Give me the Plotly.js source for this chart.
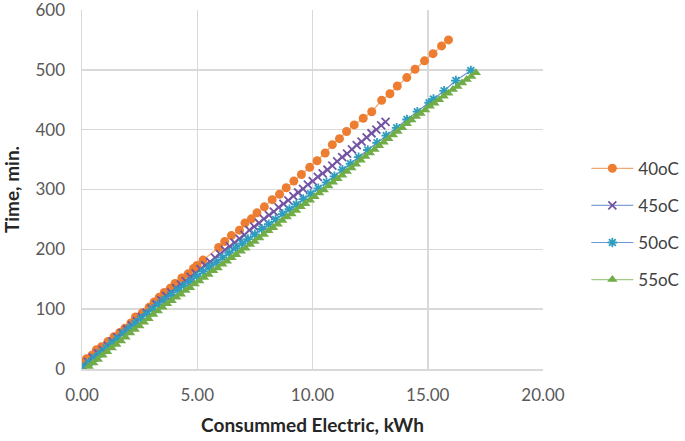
<!DOCTYPE html>
<html>
<head>
<meta charset="utf-8">
<script src="https://cdn.plot.ly/plotly-3.0.1.min.js"></script>
<style>html,body{margin:0;padding:0;background:#fff;}#chart{width:685px;height:441px;}</style>
</head>
<body>
<div id="chart"></div>
<script>
// 40oC
var x40 = [0.00,0.19,0.43,0.62,0.84,1.13,1.39,1.64,1.86,2.12,2.32,2.62,2.91,3.13,3.35,3.57,3.83,4.04,4.33,4.60,4.84,4.99,5.25,5.93,6.19,6.48,6.83,7.07,7.35,7.59,7.91,8.25,8.57,8.86,9.19,9.52,9.88,10.20,10.55,10.86,11.17,11.48,11.81,12.20,12.57,13.00,13.36,13.68,14.09,14.45,14.86,15.23,15.60,15.90];
var t40 = [10,17,23,32,37,46,54,61,68,77,87,94,103,112,120,128,135,143,152,159,168,173,182,203,213,223,232,244,251,261,271,283,292,303,314,325,337,348,361,375,385,397,408,419,430,449,460,473,487,501,515,527,540,550];
// 45oC
var x45 = [0.05,0.26,0.47,0.69,0.90,1.11,1.32,1.53,1.75,1.96,2.17,2.38,2.59,2.81,3.02,3.23,3.44,3.65,3.87,4.08,4.29,4.50,4.71,4.93,5.14,5.35,5.56,5.77,5.99,6.20,6.41,6.62,6.83,7.05,7.26,7.47,7.68,7.89,8.11,8.32,8.53,8.74,8.95,9.17,9.38,9.59,9.80,10.01,10.23,10.44,10.65,10.86,11.07,11.29,11.50,11.71,11.92,12.13,12.35,12.56,12.77,12.98,13.17];
var t45 = [5,12,19,26,32,39,46,53,60,66,73,80,87,94,101,108,115,122,128,135,141,147,154,160,167,173,179,186,192,199,205,211,218,224,232,238,244,251,257,263,270,276,282,289,295,301,308,314,321,327,333,340,347,354,360,367,374,380,387,394,400,407,413];
// 50oC
var x50 = [0.05,0.30,0.55,0.80,1.05,1.30,1.55,1.80,2.05,2.30,2.55,2.80,3.05,3.30,3.58,3.86,4.14,4.42,4.70,4.98,5.26,5.54,5.82,6.10,6.38,6.66,6.94,7.20,7.50,7.80,8.10,8.40,8.70,9.00,9.30,9.60,9.92,10.25,10.61,10.95,11.30,11.65,12.00,12.40,12.80,13.20,13.65,14.10,14.55,15.06,15.25,15.71,16.22,16.87];
var t50 = [3,11,19,27,35,43,51,60,68,76,84,92,100,108,116,124,132,139,147,155,163,171,178,186,194,202,210,217,225,234,242,250,259,267,275,284,293,302,312,322,333,343,354,366,378,390,403,417,430,445,451,465,482,499];
// 55oC
var x55 = [0.29,0.49,0.69,0.89,1.09,1.29,1.49,1.69,1.89,2.09,2.29,2.49,2.69,2.89,3.09,3.29,3.49,3.69,3.89,4.09,4.29,4.49,4.69,4.89,5.09,5.29,5.49,5.69,5.89,6.09,6.29,6.49,6.69,6.89,7.09,7.29,7.49,7.69,7.89,8.09,8.29,8.49,8.69,8.89,9.09,9.29,9.49,9.69,9.89,10.09,10.29,10.49,10.69,10.89,11.09,11.29,11.49,11.69,11.89,12.09,12.29,12.49,12.69,12.89,13.09,13.29,13.49,13.69,13.89,14.09,14.29,14.49,14.69,14.89,15.09,15.29,15.49,15.69,15.89,16.09,16.29,16.49,16.69,16.89,17.09];
var t55 = [4,10,16,23,29,35,41,47,53,60,66,72,78,84,91,97,103,109,114,120,125,131,136,142,147,153,158,164,169,175,180,186,191,197,202,208,213,219,225,231,236,242,248,254,259,265,271,276,282,288,294,299,306,312,318,324,330,336,342,349,355,361,367,373,379,385,391,397,403,410,416,422,427,433,439,444,450,456,461,467,472,478,484,489,495];

var seriesNames = ['40oC','45oC','50oC','55oC'];
var xTickVals = [0,5,10,15,20];
var yTickVals = [0,100,200,300,400,500,600];

var FONT = 'Lato, "Liberation Sans", sans-serif';

var traces = [
  {x:x40, y:t40, name:seriesNames[0], mode:'lines+markers', legendgroup:'a',
   line:{color:'#F0A772', width:1.2},
   marker:{symbol:'circle', size:9, color:'#ED7D31'}},
  {x:x45, y:t45, name:seriesNames[1], mode:'lines+markers', legendgroup:'b',
   line:{color:'#7F9FD8', width:1.2},
   marker:{symbol:'x-thin-open', size:8, color:'#7354A3', line:{color:'#7354A3', width:1.8}}},
  {x:x50, y:t50, name:seriesNames[2], mode:'lines+markers', legendgroup:'c',
   line:{color:'#6E95D6', width:1.2},
   marker:{symbol:'asterisk-open', size:8, color:'#2E9DC0', line:{color:'#2E9DC0', width:1.8}}},
  {x:x55, y:t55, name:seriesNames[3], mode:'lines+markers', legendgroup:'d',
   line:{color:'#A3CB86', width:1.2},
   marker:{symbol:'triangle-up', size:9, color:'#70AD47'}}
];

var layout = {
  width:685, height:441,
  margin:{l:82, r:142, t:10, b:72, autoexpand:false},
  paper_bgcolor:'#ffffff', plot_bgcolor:'#ffffff',
  font:{family:FONT, color:'#595959', size:17},
  showlegend:true,
  legend:{x:1.094, xanchor:'left', y:0.608, yanchor:'top', traceorder:'grouped', tracegroupgap:12,
          font:{family:FONT, size:17, color:'#404040'}, itemwidth:42, bgcolor:'rgba(0,0,0,0)'},
  xaxis:{range:[0,20], tickvals:xTickVals, tickformat:'.2f', showgrid:true, gridcolor:'#D9D9D9', gridwidth:1.5,
         zeroline:false, showline:true, linecolor:'#D9D9D9', linewidth:1.5, ticks:'', ticklen:0,
         ticklabelstandoff:10, automargin:false, ticklabeloverflow:'allow',
         tickfont:{family:FONT, size:17, color:'#595959'},
         title:{text:'<b>Consummed Electric, kWh</b>', font:{family:FONT, size:19, color:'#262626'}, standoff:15}},
  yaxis:{range:[0,600], tickvals:yTickVals, showgrid:true, gridcolor:'#D9D9D9', gridwidth:1.5,
         zeroline:false, showline:true, linecolor:'#D9D9D9', linewidth:1.5, ticks:'', ticklen:0,
         ticklabelstandoff:12, automargin:false, ticklabeloverflow:'allow',
         tickfont:{family:FONT, size:17, color:'#595959'},
         title:{text:'<b>Time, min.</b>', font:{family:FONT, size:19, color:'#262626'}, standoff:22}}
};

Plotly.newPlot('chart', traces, layout, {displayModeBar:false, staticPlot:true});
</script>
</body>
</html>
